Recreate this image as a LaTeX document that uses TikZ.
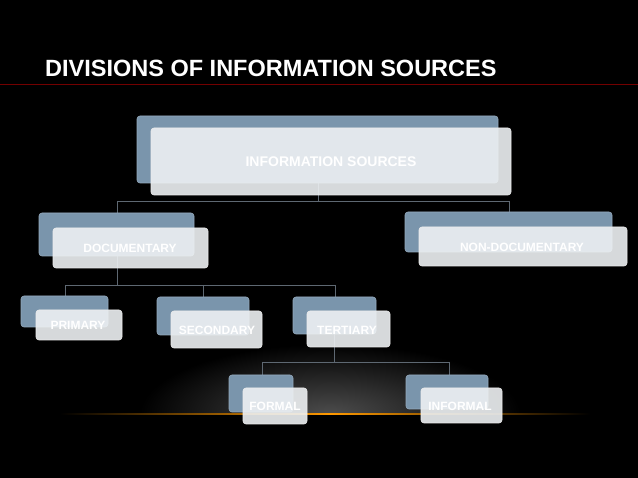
\documentclass[tikz,border=0pt]{standalone}
\usepackage{fontspec}
\setmainfont{Liberation Sans}
\begin{document}
\begin{tikzpicture}[x=1pt,y=-1pt,
  back/.style={fill=backblue,draw=backblue!80!white,rounded corners=3pt,line width=0.6pt},
  front/.style={fill=frontwhite,fill opacity=0.9,draw=white!85!gray,rounded corners=3pt,line width=0.6pt},
  lbl/.style={text=white,font=\bfseries\fontsize{12}{14}\selectfont,inner sep=0pt},
  conn/.style={draw=lineg,line width=0.7pt}]
\definecolor{backblue}{HTML}{7A95AC}
\definecolor{frontwhite}{HTML}{EEF1F3}
\definecolor{lineg}{HTML}{5E6872}
\fill[black] (0,0) rectangle (638,478);
\useasboundingbox (0,0) rectangle (638,478);
% glow
\fill[inner color=white!30!black,outer color=black] (330,414) ellipse (190 and 70);
\fill[black] (0,415) rectangle (638,478);
\shade[left color=black,right color=orange!80!yellow] (60,413.5) rectangle (330,415);
\shade[right color=black,left color=orange!80!yellow] (330,413.5) rectangle (590,415);
% title
\node[anchor=west,text=white,font=\bfseries\fontsize{23.5}{27}\selectfont,inner sep=0pt] (title) at (45,68) {DIVISIONS OF INFORMATION SOURCES};
\draw[draw=red!45!black,line width=0.8pt] (0,84) -- (638,84);
% connectors
\draw[conn] (318,183) -- (318,201) (117,201) -- (509,201) (117,201) -- (117,213) (509,201) -- (509,212);
\draw[conn] (117,256) -- (117,285) (65,285) -- (335,285) (65,285) -- (65,296) (203,285) -- (203,297) (335,285) -- (335,297);
\draw[conn] (334,334) -- (334,362) (262,362) -- (449,362) (262,362) -- (262,375) (449,362) -- (449,375);
% boxes
\draw[back] (137,116) rectangle (498,183);
\draw[front] (151,128) rectangle (511,195);
\node[lbl,font=\bfseries\fontsize{14}{16}\selectfont] (info) at (331,162) {INFORMATION SOURCES};
\draw[back] (39,213) rectangle (194,256);
\draw[front] (53,228) rectangle (208,268);
\node[lbl] (doc) at (130,248) {DOCUMENTARY};
\draw[back] (405,212) rectangle (612,252);
\draw[front] (419,227) rectangle (627,266);
\node[lbl] (ndoc) at (522,247) {NON-DOCUMENTARY};
\draw[back] (21,296) rectangle (108,327);
\draw[front] (36,310) rectangle (122,340);
\node[lbl] (prim) at (78,325) {PRIMARY};
\draw[back] (157,297) rectangle (249,335);
\draw[front] (171,311) rectangle (262,348);
\node[lbl] (sec) at (217,330) {SECONDARY};
\draw[back] (293,297) rectangle (376,334);
\draw[front] (307,311) rectangle (390,347);
\node[lbl] (ter) at (347,330) {TERTIARY};
\draw[back] (229,375) rectangle (293,412);
\draw[front] (243,388) rectangle (307,424);
\node[lbl] (form) at (275,406) {FORMAL};
\draw[back] (406,375) rectangle (488,409);
\draw[front] (421,388) rectangle (502,423);
\node[lbl] (inf) at (460,406) {INFORMAL};
\end{tikzpicture}
\end{document}
